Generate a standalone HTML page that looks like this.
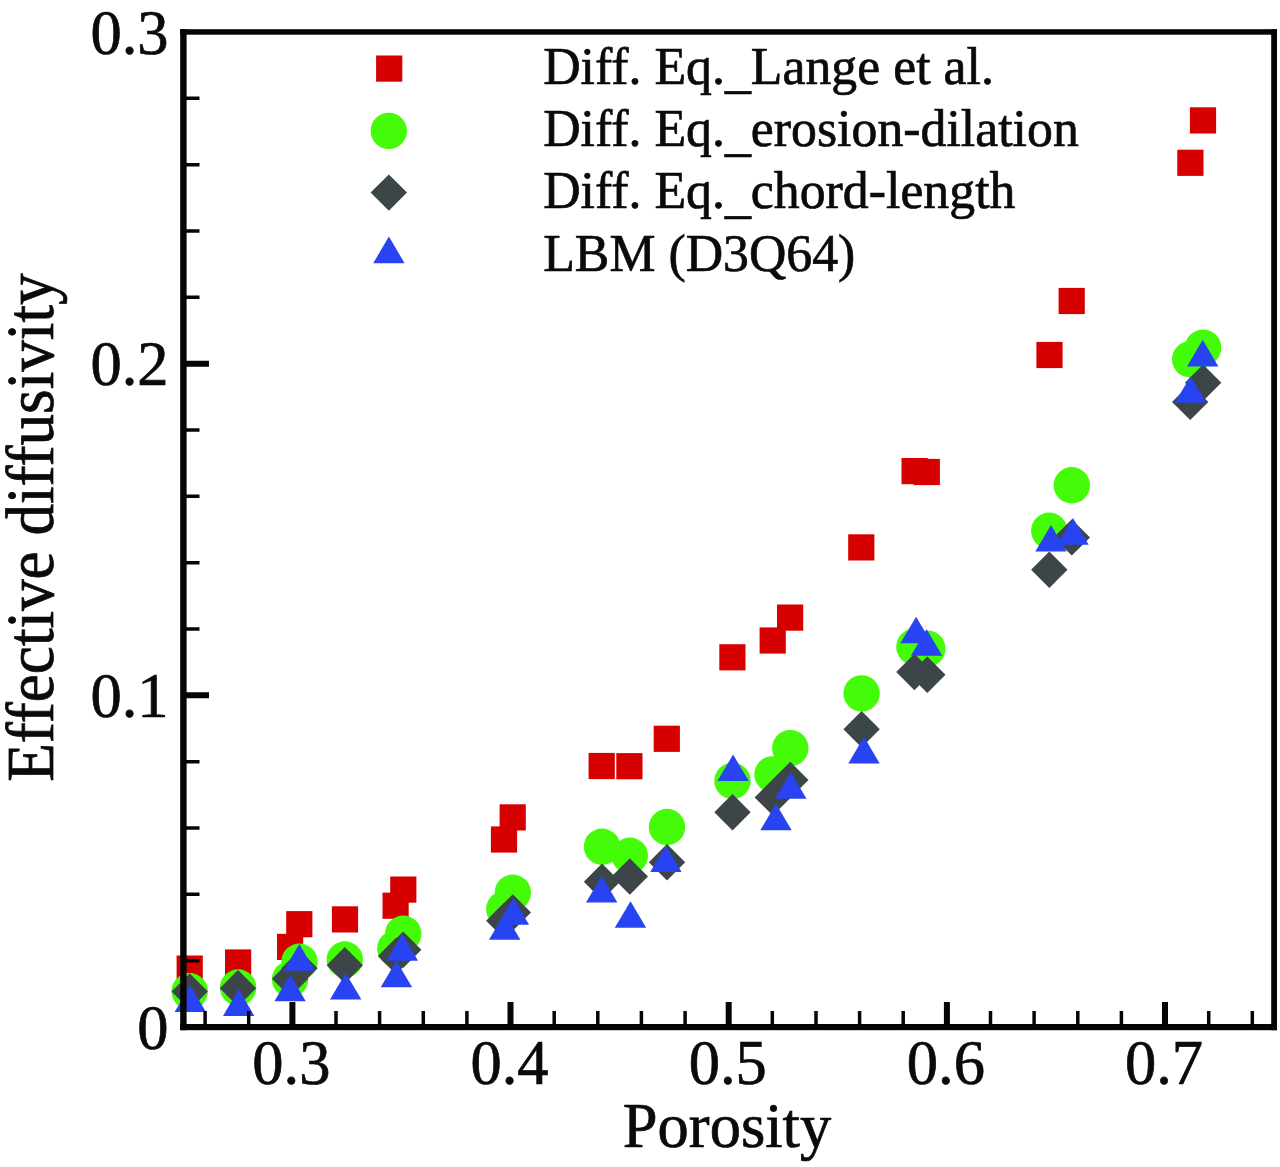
<!DOCTYPE html>
<html lang="en"><head><meta charset="utf-8"><title>Effective diffusivity vs porosity</title>
<style>
html,body{margin:0;padding:0;background:#fff;}
body{width:1280px;height:1167px;overflow:hidden;}
svg{display:block;filter:blur(0.6px);}
text{font-family:"Liberation Serif","Times New Roman",Times,serif;fill:#0a0a0a;stroke:#0a0a0a;stroke-width:0.7px;}
.ax{font-size:62.5px;}
.lg{font-size:53.0px;}
</style></head><body>
<svg width="1280" height="1167" viewBox="0 0 1280 1167">
<rect width="1280" height="1167" fill="#fff"/>
<g shape-rendering="geometricPrecision">
<g fill="#d60000"><rect x="176.6" y="955.5" width="26.2" height="26.2"/><rect x="225.0" y="949.4" width="26.2" height="26.2"/><rect x="277.0" y="933.8" width="26.2" height="26.2"/><rect x="286.2" y="911.1" width="26.2" height="26.2"/><rect x="331.9" y="906.3" width="26.2" height="26.2"/><rect x="382.5" y="892.6" width="26.2" height="26.2"/><rect x="390.2" y="876.5" width="26.2" height="26.2"/><rect x="490.9" y="826.4" width="26.2" height="26.2"/><rect x="499.6" y="804.3" width="26.2" height="26.2"/><rect x="588.6" y="752.9" width="26.2" height="26.2"/><rect x="616.3" y="753.1" width="26.2" height="26.2"/><rect x="653.7" y="725.7" width="26.2" height="26.2"/><rect x="719.3" y="644.2" width="26.2" height="26.2"/><rect x="759.6" y="627.4" width="26.2" height="26.2"/><rect x="777.0" y="604.5" width="26.2" height="26.2"/><rect x="848.2" y="534.3" width="26.2" height="26.2"/><rect x="901.5" y="458.0" width="26.2" height="26.2"/><rect x="913.7" y="458.9" width="26.2" height="26.2"/><rect x="1036.4" y="341.9" width="26.2" height="26.2"/><rect x="1058.6" y="287.9" width="26.2" height="26.2"/><rect x="1177.3" y="149.7" width="26.2" height="26.2"/><rect x="1189.9" y="107.3" width="26.2" height="26.2"/><rect x="376.1" y="55.5" width="26.2" height="26.2"/></g>
<g fill="#44fc08"><circle cx="189.7" cy="991.3" r="18.2"/><circle cx="238.1" cy="987.5" r="18.2"/><circle cx="290.1" cy="979.2" r="18.2"/><circle cx="299.5" cy="961.7" r="18.2"/><circle cx="344.8" cy="959.5" r="18.2"/><circle cx="395.3" cy="948.6" r="18.2"/><circle cx="403.2" cy="933.7" r="18.2"/><circle cx="504.3" cy="909.1" r="18.2"/><circle cx="512.8" cy="892.7" r="18.2"/><circle cx="602.0" cy="846.7" r="18.2"/><circle cx="629.8" cy="855.7" r="18.2"/><circle cx="667.0" cy="827.0" r="18.2"/><circle cx="732.5" cy="780.9" r="18.2"/><circle cx="772.5" cy="774.4" r="18.2"/><circle cx="790.3" cy="748.1" r="18.2"/><circle cx="861.6" cy="693.4" r="18.2"/><circle cx="914.4" cy="646.9" r="18.2"/><circle cx="927.3" cy="648.6" r="18.2"/><circle cx="1049.3" cy="530.8" r="18.2"/><circle cx="1071.8" cy="485.3" r="18.2"/><circle cx="1190.2" cy="359.3" r="18.2"/><circle cx="1203.1" cy="347.7" r="18.2"/><circle cx="388.8" cy="130.9" r="18.2"/></g>
<g fill="#3c4648"><path d="M171.5 991.6L189.7 973.4L207.9 991.6L189.7 1009.8Z"/><path d="M219.8 988.2L238.0 970.0L256.2 988.2L238.0 1006.4Z"/><path d="M271.9 978.8L290.1 960.6L308.3 978.8L290.1 997.0Z"/><path d="M281.3 968.2L299.5 950.0L317.7 968.2L299.5 986.4Z"/><path d="M326.6 965.2L344.8 947.0L363.0 965.2L344.8 983.4Z"/><path d="M377.8 956.0L396.0 937.8L414.2 956.0L396.0 974.2Z"/><path d="M385.0 949.7L403.2 931.5L421.4 949.7L403.2 967.9Z"/><path d="M486.1 920.7L504.3 902.5L522.5 920.7L504.3 938.9Z"/><path d="M494.6 912.4L512.8 894.2L531.0 912.4L512.8 930.6Z"/><path d="M583.8 881.7L602.0 863.5L620.2 881.7L602.0 899.9Z"/><path d="M611.6 876.5L629.8 858.3L648.0 876.5L629.8 894.7Z"/><path d="M648.8 862.3L667.0 844.1L685.2 862.3L667.0 880.5Z"/><path d="M714.3 812.2L732.5 794.0L750.7 812.2L732.5 830.4Z"/><path d="M754.6 797.4L772.8 779.2L791.0 797.4L772.8 815.6Z"/><path d="M772.1 779.9L790.3 761.7L808.5 779.9L790.3 798.1Z"/><path d="M843.4 729.2L861.6 711.0L879.8 729.2L861.6 747.4Z"/><path d="M896.2 672.0L914.4 653.8L932.6 672.0L914.4 690.2Z"/><path d="M909.1 674.7L927.3 656.5L945.5 674.7L927.3 692.9Z"/><path d="M1031.1 569.7L1049.3 551.5L1067.5 569.7L1049.3 587.9Z"/><path d="M1053.6 537.4L1071.8 519.2L1090.0 537.4L1071.8 555.6Z"/><path d="M1172.0 401.9L1190.2 383.7L1208.4 401.9L1190.2 420.1Z"/><path d="M1184.9 382.7L1203.1 364.5L1221.3 382.7L1203.1 400.9Z"/><path d="M370.6 192.6L388.8 174.4L407.0 192.6L388.8 210.8Z"/></g>
<g fill="#2843f2"><path d="M174.6 1012.0L190.3 985.4L206.0 1012.0Z"/><path d="M223.0 1015.9L238.7 989.3L254.4 1015.9Z"/><path d="M274.4 1001.3L290.1 974.7L305.8 1001.3Z"/><path d="M283.6 970.7L299.3 944.1L315.0 970.7Z"/><path d="M330.0 999.5L345.7 972.9L361.4 999.5Z"/><path d="M380.7 987.3L396.4 960.7L412.1 987.3Z"/><path d="M386.6 960.7L402.3 934.1L418.0 960.7Z"/><path d="M489.0 939.7L504.7 913.1L520.4 939.7Z"/><path d="M497.7 924.8L513.4 898.2L529.1 924.8Z"/><path d="M586.0 902.5L601.7 875.9L617.4 902.5Z"/><path d="M614.8 927.8L630.5 901.2L646.2 927.8Z"/><path d="M650.2 872.1L665.9 845.5L681.6 872.1Z"/><path d="M717.4 781.1L733.1 754.5L748.8 781.1Z"/><path d="M760.3 830.3L776.0 803.7L791.7 830.3Z"/><path d="M775.1 798.8L790.8 772.2L806.5 798.8Z"/><path d="M848.3 763.4L864.0 736.8L879.7 763.4Z"/><path d="M900.4 643.3L916.1 616.7L931.8 643.3Z"/><path d="M910.9 655.8L926.6 629.2L942.3 655.8Z"/><path d="M1035.3 551.5L1051.0 524.9L1066.7 551.5Z"/><path d="M1057.3 544.7L1073.0 518.1L1088.7 544.7Z"/><path d="M1174.8 402.8L1190.5 376.2L1206.2 402.8Z"/><path d="M1187.0 366.4L1202.7 339.8L1218.4 366.4Z"/><path d="M373.2 263.2L388.9 236.6L404.6 263.2Z"/></g>
</g>
<g>
<g fill="#050505"><rect x="180.2" y="29.2" width="6.4" height="1001"/><rect x="180.2" y="1024" width="1096.8" height="6.2"/><rect x="1271.2" y="29.2" width="5.8" height="1001"/><rect x="180.2" y="29.2" width="1096.8" height="5.5"/></g>
<path d="M292.4 1025V1002M510.5 1025V1002M728.7 1025V1002M946.9 1025V1002M1165.0 1025V1002M185 695.3H209M185 363.7H209" fill="none" stroke="#050505" stroke-width="6"/>
<path d="M205.1 1025V1011M248.7 1025V1011M336.0 1025V1011M379.6 1025V1011M423.3 1025V1011M466.9 1025V1011M554.2 1025V1011M597.8 1025V1011M641.4 1025V1011M685.1 1025V1011M772.3 1025V1011M816.0 1025V1011M859.6 1025V1011M903.2 1025V1011M990.5 1025V1011M1034.1 1025V1011M1077.8 1025V1011M1121.4 1025V1011M1208.7 1025V1011M1252.3 1025V1011M185 960.7H199.5M185 894.3H199.5M185 828.0H199.5M185 761.7H199.5M185 629.0H199.5M185 562.7H199.5M185 496.3H199.5M185 430.0H199.5M185 297.3H199.5M185 231.0H199.5M185 164.7H199.5M185 98.3H199.5" fill="none" stroke="#050505" stroke-width="3.5"/>
</g>
<g class="ax">
<text x="291.4" y="1083.7" text-anchor="middle">0.3</text>
<text x="509.5" y="1083.7" text-anchor="middle">0.4</text>
<text x="727.7" y="1083.7" text-anchor="middle">0.5</text>
<text x="945.9" y="1083.7" text-anchor="middle">0.6</text>
<text x="1164.0" y="1083.7" text-anchor="middle">0.7</text>
<text x="168.5" y="1048.5" text-anchor="end">0</text>
<text x="168.5" y="716.8" text-anchor="end">0.1</text>
<text x="168.5" y="385.2" text-anchor="end">0.2</text>
<text x="168.5" y="53.5" text-anchor="end">0.3</text>
<text x="727" y="1146.6" text-anchor="middle">Porosity</text>
<text transform="translate(53 527.6) rotate(-90) scale(1 1.065)" text-anchor="middle" style="font-size:63.2px">Effective diffusivity</text>
</g>
<g class="lg">
<text transform="translate(543.2 83.75) scale(0.9775 1)">Diff. Eq.<tspan dy="3.5">_</tspan><tspan dy="-3.5">Lange et al.</tspan></text>
<text transform="translate(543.2 146.00) scale(0.9775 1)">Diff. Eq.<tspan dy="3.5">_</tspan><tspan dy="-3.5">erosion-dilation</tspan></text>
<text transform="translate(543.2 208.25) scale(0.9775 1)">Diff. Eq.<tspan dy="3.5">_</tspan><tspan dy="-3.5">chord-length</tspan></text>
<text transform="translate(543.2 270.50) scale(0.9775 1)">LBM (D3Q64)</text>
</g>
</svg>
</body></html>
